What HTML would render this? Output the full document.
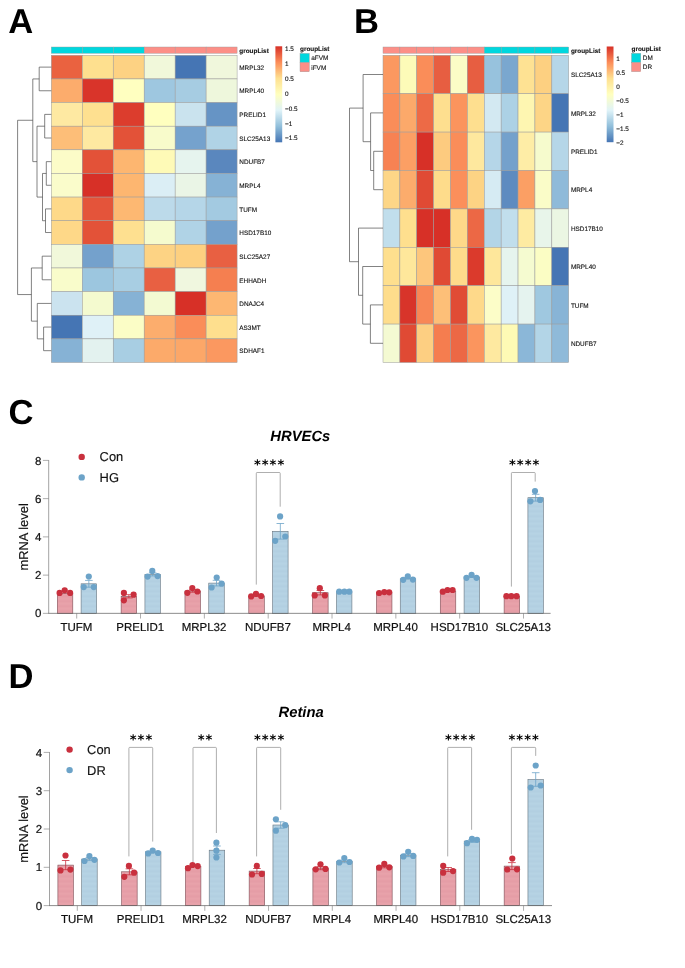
<!DOCTYPE html>
<html lang="en"><head><meta charset="utf-8"><title>Figure</title>
<style>
html,body{margin:0;padding:0;background:#fff;}
body{width:685px;height:968px;overflow:hidden;}
svg{display:block;font-family:"Liberation Sans", Arial, Helvetica, sans-serif;text-rendering:geometricPrecision;}
.pl{font-weight:bold;font-size:34.6px;fill:#000;}
.hl{font-size:6.4px;fill:#111;stroke:#111;stroke-width:0.12px;}
.hb{font-size:6.4px;font-weight:bold;fill:#111;stroke:#111;stroke-width:0.1px;}
.ax{font-size:11.5px;fill:#111;stroke:#111;stroke-width:0.2px;}
.yl{font-size:12.9px;fill:#111;stroke:#111;stroke-width:0.15px;}
.lg{font-size:12.9px;fill:#111;stroke:#111;stroke-width:0.15px;}
.tt{font-size:14.8px;font-weight:bold;font-style:italic;fill:#000;}
.st{font-family:"DejaVu Sans","Liberation Sans",sans-serif;font-size:13px;font-weight:bold;font-style:italic;fill:#000;letter-spacing:1.05px;}
</style></head><body>
<svg width="685" height="968" viewBox="0 0 685 968">
<defs>
<linearGradient id="cb" x1="0" y1="0" x2="0" y2="1">
<stop offset="0" stop-color="#D73027"/><stop offset="0.1667" stop-color="#FC8D59"/><stop offset="0.3333" stop-color="#FEE090"/><stop offset="0.5" stop-color="#FFFFBF"/><stop offset="0.6667" stop-color="#E0F3F8"/><stop offset="0.8333" stop-color="#91BFDB"/><stop offset="1" stop-color="#4575B4"/>
</linearGradient>
<pattern id="pr" width="1.25" height="1.25" patternUnits="userSpaceOnUse"><rect width="1.25" height="1.25" fill="#E8A3AB"/><rect width="1.25" height="0.4" fill="#E499A2"/></pattern>
<pattern id="pb" width="1.25" height="1.25" patternUnits="userSpaceOnUse"><rect width="1.25" height="1.25" fill="#B7D3E4"/><rect width="1.25" height="0.4" fill="#AECDE0"/></pattern>
</defs>
<rect width="685" height="968" fill="#fff"/>

<text class="pl" x="8.3" y="32.9">A</text>
<text class="pl" x="354.1" y="32.9">B</text>
<text class="pl" x="8.6" y="424.3">C</text>
<text class="pl" x="8.6" y="687.8">D</text>
<rect x="51.30" y="47.0" width="30.97" height="6.30" fill="#00D7DE" stroke="#9a9a9a" stroke-width="0.4"/>
<rect x="82.27" y="47.0" width="30.97" height="6.30" fill="#00D7DE" stroke="#9a9a9a" stroke-width="0.4"/>
<rect x="113.23" y="47.0" width="30.97" height="6.30" fill="#00D7DE" stroke="#9a9a9a" stroke-width="0.4"/>
<rect x="144.20" y="47.0" width="30.97" height="6.30" fill="#FC8F87" stroke="#9a9a9a" stroke-width="0.4"/>
<rect x="175.17" y="47.0" width="30.97" height="6.30" fill="#FC8F87" stroke="#9a9a9a" stroke-width="0.4"/>
<rect x="206.13" y="47.0" width="30.97" height="6.30" fill="#FC8F87" stroke="#9a9a9a" stroke-width="0.4"/>
<rect x="51.30" y="55.30" width="30.97" height="23.63" fill="#EA6240" stroke="#9a9a9a" stroke-width="0.5"/>
<rect x="82.27" y="55.30" width="30.97" height="23.63" fill="#FEE08F" stroke="#9a9a9a" stroke-width="0.5"/>
<rect x="113.23" y="55.30" width="30.97" height="23.63" fill="#FDD283" stroke="#9a9a9a" stroke-width="0.5"/>
<rect x="144.20" y="55.30" width="30.97" height="23.63" fill="#F1F8DA" stroke="#9a9a9a" stroke-width="0.5"/>
<rect x="175.17" y="55.30" width="30.97" height="23.63" fill="#4575B4" stroke="#9a9a9a" stroke-width="0.5"/>
<rect x="206.13" y="55.30" width="30.97" height="23.63" fill="#F0F7DC" stroke="#9a9a9a" stroke-width="0.5"/>
<rect x="51.30" y="78.93" width="30.97" height="23.63" fill="#FCAC6C" stroke="#9a9a9a" stroke-width="0.5"/>
<rect x="82.27" y="78.93" width="30.97" height="23.63" fill="#D9342A" stroke="#9a9a9a" stroke-width="0.5"/>
<rect x="113.23" y="78.93" width="30.97" height="23.63" fill="#FFFFC0" stroke="#9a9a9a" stroke-width="0.5"/>
<rect x="144.20" y="78.93" width="30.97" height="23.63" fill="#9EC7E0" stroke="#9a9a9a" stroke-width="0.5"/>
<rect x="175.17" y="78.93" width="30.97" height="23.63" fill="#A6CCE2" stroke="#9a9a9a" stroke-width="0.5"/>
<rect x="206.13" y="78.93" width="30.97" height="23.63" fill="#EEF7DC" stroke="#9a9a9a" stroke-width="0.5"/>
<rect x="51.30" y="102.56" width="30.97" height="23.63" fill="#FEE9A2" stroke="#9a9a9a" stroke-width="0.5"/>
<rect x="82.27" y="102.56" width="30.97" height="23.63" fill="#FEE090" stroke="#9a9a9a" stroke-width="0.5"/>
<rect x="113.23" y="102.56" width="30.97" height="23.63" fill="#DC3D2D" stroke="#9a9a9a" stroke-width="0.5"/>
<rect x="144.20" y="102.56" width="30.97" height="23.63" fill="#FFFFBF" stroke="#9a9a9a" stroke-width="0.5"/>
<rect x="175.17" y="102.56" width="30.97" height="23.63" fill="#CAE3EE" stroke="#9a9a9a" stroke-width="0.5"/>
<rect x="206.13" y="102.56" width="30.97" height="23.63" fill="#6694C5" stroke="#9a9a9a" stroke-width="0.5"/>
<rect x="51.30" y="126.19" width="30.97" height="23.63" fill="#FDBE78" stroke="#9a9a9a" stroke-width="0.5"/>
<rect x="82.27" y="126.19" width="30.97" height="23.63" fill="#FEE9A1" stroke="#9a9a9a" stroke-width="0.5"/>
<rect x="113.23" y="126.19" width="30.97" height="23.63" fill="#E35238" stroke="#9a9a9a" stroke-width="0.5"/>
<rect x="144.20" y="126.19" width="30.97" height="23.63" fill="#F8FBCB" stroke="#9a9a9a" stroke-width="0.5"/>
<rect x="175.17" y="126.19" width="30.97" height="23.63" fill="#75A2CD" stroke="#9a9a9a" stroke-width="0.5"/>
<rect x="206.13" y="126.19" width="30.97" height="23.63" fill="#B0D3E6" stroke="#9a9a9a" stroke-width="0.5"/>
<rect x="51.30" y="149.82" width="30.97" height="23.63" fill="#FCFCC8" stroke="#9a9a9a" stroke-width="0.5"/>
<rect x="82.27" y="149.82" width="30.97" height="23.63" fill="#E35238" stroke="#9a9a9a" stroke-width="0.5"/>
<rect x="113.23" y="149.82" width="30.97" height="23.63" fill="#FDB670" stroke="#9a9a9a" stroke-width="0.5"/>
<rect x="144.20" y="149.82" width="30.97" height="23.63" fill="#FEFAB7" stroke="#9a9a9a" stroke-width="0.5"/>
<rect x="175.17" y="149.82" width="30.97" height="23.63" fill="#E6F4EE" stroke="#9a9a9a" stroke-width="0.5"/>
<rect x="206.13" y="149.82" width="30.97" height="23.63" fill="#5A87BE" stroke="#9a9a9a" stroke-width="0.5"/>
<rect x="51.30" y="173.45" width="30.97" height="23.63" fill="#FAFCCB" stroke="#9a9a9a" stroke-width="0.5"/>
<rect x="82.27" y="173.45" width="30.97" height="23.63" fill="#D73027" stroke="#9a9a9a" stroke-width="0.5"/>
<rect x="113.23" y="173.45" width="30.97" height="23.63" fill="#FDB670" stroke="#9a9a9a" stroke-width="0.5"/>
<rect x="144.20" y="173.45" width="30.97" height="23.63" fill="#DBEEF5" stroke="#9a9a9a" stroke-width="0.5"/>
<rect x="175.17" y="173.45" width="30.97" height="23.63" fill="#EAF5E6" stroke="#9a9a9a" stroke-width="0.5"/>
<rect x="206.13" y="173.45" width="30.97" height="23.63" fill="#86B2D5" stroke="#9a9a9a" stroke-width="0.5"/>
<rect x="51.30" y="197.08" width="30.97" height="23.63" fill="#FED989" stroke="#9a9a9a" stroke-width="0.5"/>
<rect x="82.27" y="197.08" width="30.97" height="23.63" fill="#E4543A" stroke="#9a9a9a" stroke-width="0.5"/>
<rect x="113.23" y="197.08" width="30.97" height="23.63" fill="#FDB872" stroke="#9a9a9a" stroke-width="0.5"/>
<rect x="144.20" y="197.08" width="30.97" height="23.63" fill="#BCDAEA" stroke="#9a9a9a" stroke-width="0.5"/>
<rect x="175.17" y="197.08" width="30.97" height="23.63" fill="#B5D6E8" stroke="#9a9a9a" stroke-width="0.5"/>
<rect x="206.13" y="197.08" width="30.97" height="23.63" fill="#A3CAE1" stroke="#9a9a9a" stroke-width="0.5"/>
<rect x="51.30" y="220.72" width="30.97" height="23.63" fill="#FED888" stroke="#9a9a9a" stroke-width="0.5"/>
<rect x="82.27" y="220.72" width="30.97" height="23.63" fill="#E35238" stroke="#9a9a9a" stroke-width="0.5"/>
<rect x="113.23" y="220.72" width="30.97" height="23.63" fill="#FEE090" stroke="#9a9a9a" stroke-width="0.5"/>
<rect x="144.20" y="220.72" width="30.97" height="23.63" fill="#F5FBCE" stroke="#9a9a9a" stroke-width="0.5"/>
<rect x="175.17" y="220.72" width="30.97" height="23.63" fill="#B0D3E6" stroke="#9a9a9a" stroke-width="0.5"/>
<rect x="206.13" y="220.72" width="30.97" height="23.63" fill="#74A1CC" stroke="#9a9a9a" stroke-width="0.5"/>
<rect x="51.30" y="244.35" width="30.97" height="23.63" fill="#F1F8DA" stroke="#9a9a9a" stroke-width="0.5"/>
<rect x="82.27" y="244.35" width="30.97" height="23.63" fill="#74A1CC" stroke="#9a9a9a" stroke-width="0.5"/>
<rect x="113.23" y="244.35" width="30.97" height="23.63" fill="#AED2E5" stroke="#9a9a9a" stroke-width="0.5"/>
<rect x="144.20" y="244.35" width="30.97" height="23.63" fill="#FDD384" stroke="#9a9a9a" stroke-width="0.5"/>
<rect x="175.17" y="244.35" width="30.97" height="23.63" fill="#FDD080" stroke="#9a9a9a" stroke-width="0.5"/>
<rect x="206.13" y="244.35" width="30.97" height="23.63" fill="#E86042" stroke="#9a9a9a" stroke-width="0.5"/>
<rect x="51.30" y="267.98" width="30.97" height="23.63" fill="#F9FCCB" stroke="#9a9a9a" stroke-width="0.5"/>
<rect x="82.27" y="267.98" width="30.97" height="23.63" fill="#9CC6DF" stroke="#9a9a9a" stroke-width="0.5"/>
<rect x="113.23" y="267.98" width="30.97" height="23.63" fill="#A8CEE3" stroke="#9a9a9a" stroke-width="0.5"/>
<rect x="144.20" y="267.98" width="30.97" height="23.63" fill="#E86042" stroke="#9a9a9a" stroke-width="0.5"/>
<rect x="175.17" y="267.98" width="30.97" height="23.63" fill="#F0F7DF" stroke="#9a9a9a" stroke-width="0.5"/>
<rect x="206.13" y="267.98" width="30.97" height="23.63" fill="#F57F50" stroke="#9a9a9a" stroke-width="0.5"/>
<rect x="51.30" y="291.61" width="30.97" height="23.63" fill="#CBE3EF" stroke="#9a9a9a" stroke-width="0.5"/>
<rect x="82.27" y="291.61" width="30.97" height="23.63" fill="#F4FACF" stroke="#9a9a9a" stroke-width="0.5"/>
<rect x="113.23" y="291.61" width="30.97" height="23.63" fill="#86B2D5" stroke="#9a9a9a" stroke-width="0.5"/>
<rect x="144.20" y="291.61" width="30.97" height="23.63" fill="#F3FAD2" stroke="#9a9a9a" stroke-width="0.5"/>
<rect x="175.17" y="291.61" width="30.97" height="23.63" fill="#D73027" stroke="#9a9a9a" stroke-width="0.5"/>
<rect x="206.13" y="291.61" width="30.97" height="23.63" fill="#FDB772" stroke="#9a9a9a" stroke-width="0.5"/>
<rect x="51.30" y="315.24" width="30.97" height="23.63" fill="#4575B4" stroke="#9a9a9a" stroke-width="0.5"/>
<rect x="82.27" y="315.24" width="30.97" height="23.63" fill="#DFF1F7" stroke="#9a9a9a" stroke-width="0.5"/>
<rect x="113.23" y="315.24" width="30.97" height="23.63" fill="#FBFDC6" stroke="#9a9a9a" stroke-width="0.5"/>
<rect x="144.20" y="315.24" width="30.97" height="23.63" fill="#FCAD6D" stroke="#9a9a9a" stroke-width="0.5"/>
<rect x="175.17" y="315.24" width="30.97" height="23.63" fill="#FA8D59" stroke="#9a9a9a" stroke-width="0.5"/>
<rect x="206.13" y="315.24" width="30.97" height="23.63" fill="#FEDF8E" stroke="#9a9a9a" stroke-width="0.5"/>
<rect x="51.30" y="338.87" width="30.97" height="23.63" fill="#86B2D5" stroke="#9a9a9a" stroke-width="0.5"/>
<rect x="82.27" y="338.87" width="30.97" height="23.63" fill="#E3F2EF" stroke="#9a9a9a" stroke-width="0.5"/>
<rect x="113.23" y="338.87" width="30.97" height="23.63" fill="#A8CEE3" stroke="#9a9a9a" stroke-width="0.5"/>
<rect x="144.20" y="338.87" width="30.97" height="23.63" fill="#FCAA6A" stroke="#9a9a9a" stroke-width="0.5"/>
<rect x="175.17" y="338.87" width="30.97" height="23.63" fill="#FCA768" stroke="#9a9a9a" stroke-width="0.5"/>
<rect x="206.13" y="338.87" width="30.97" height="23.63" fill="#FB9860" stroke="#9a9a9a" stroke-width="0.5"/>
<text class="hb" x="239.3" y="52.5">groupList</text>
<text class="hl" x="239.3" y="69.8">MRPL32</text>
<text class="hl" x="239.3" y="93.4">MRPL40</text>
<text class="hl" x="239.3" y="117.1">PRELID1</text>
<text class="hl" x="239.3" y="140.7">SLC25A13</text>
<text class="hl" x="239.3" y="164.3">NDUFB7</text>
<text class="hl" x="239.3" y="188.0">MRPL4</text>
<text class="hl" x="239.3" y="211.6">TUFM</text>
<text class="hl" x="239.3" y="235.2">HSD17B10</text>
<text class="hl" x="239.3" y="258.9">SLC25A27</text>
<text class="hl" x="239.3" y="282.5">EHHADH</text>
<text class="hl" x="239.3" y="306.1">DNAJC4</text>
<text class="hl" x="239.3" y="329.8">AS3MT</text>
<text class="hl" x="239.3" y="353.4">SDHAF1</text>
<path d="M51.30 67.12H39.20V90.75H51.30M51.30 114.38H44.70V138.01H51.30M51.30 161.64H46.30V185.27H51.30M51.30 208.90H45.50V232.53H51.30M46.30 173.45H42.50V220.72H45.50M44.70 126.19H37.00V197.08H42.50M39.20 78.93H32.80V161.64H37.00M51.30 256.16H42.20V279.79H51.30M51.30 327.05H43.60V350.68H51.30M51.30 303.42H37.30V338.87H43.60M42.20 267.98H31.40V321.15H37.30M32.80 120.28H17.60V294.56H31.40" fill="none" stroke="#4d4d4d" stroke-width="0.7"/>
<rect x="275.4" y="46.3" width="6.8" height="96.00" fill="url(#cb)"/>
<text class="hl" x="285.0" y="51.3">1.5</text>
<text class="hl" x="285.0" y="66.1">1</text>
<text class="hl" x="285.0" y="81.0">0.5</text>
<text class="hl" x="285.0" y="95.8">0</text>
<text class="hl" x="285.0" y="110.6">−0.5</text>
<text class="hl" x="285.0" y="125.5">−1</text>
<text class="hl" x="285.0" y="140.3">−1.5</text>
<text class="hb" x="300.0" y="51.3">groupList</text>
<rect x="300.0" y="53.40" width="9.3" height="9.2" fill="#00D7DE" stroke="#9a9a9a" stroke-width="0.4"/>
<text class="hl" x="311.3" y="60.3">aFVM</text>
<rect x="300.0" y="62.60" width="9.3" height="9.2" fill="#FC8F87" stroke="#9a9a9a" stroke-width="0.4"/>
<text class="hl" x="311.3" y="69.5">iFVM</text>
<rect x="383.00" y="47.0" width="16.88" height="6.30" fill="#FC8F87" stroke="#9a9a9a" stroke-width="0.4"/>
<rect x="399.88" y="47.0" width="16.88" height="6.30" fill="#FC8F87" stroke="#9a9a9a" stroke-width="0.4"/>
<rect x="416.76" y="47.0" width="16.88" height="6.30" fill="#FC8F87" stroke="#9a9a9a" stroke-width="0.4"/>
<rect x="433.65" y="47.0" width="16.88" height="6.30" fill="#FC8F87" stroke="#9a9a9a" stroke-width="0.4"/>
<rect x="450.53" y="47.0" width="16.88" height="6.30" fill="#FC8F87" stroke="#9a9a9a" stroke-width="0.4"/>
<rect x="467.41" y="47.0" width="16.88" height="6.30" fill="#FC8F87" stroke="#9a9a9a" stroke-width="0.4"/>
<rect x="484.29" y="47.0" width="16.88" height="6.30" fill="#00D7DE" stroke="#9a9a9a" stroke-width="0.4"/>
<rect x="501.17" y="47.0" width="16.88" height="6.30" fill="#00D7DE" stroke="#9a9a9a" stroke-width="0.4"/>
<rect x="518.05" y="47.0" width="16.88" height="6.30" fill="#00D7DE" stroke="#9a9a9a" stroke-width="0.4"/>
<rect x="534.94" y="47.0" width="16.88" height="6.30" fill="#00D7DE" stroke="#9a9a9a" stroke-width="0.4"/>
<rect x="551.82" y="47.0" width="16.88" height="6.30" fill="#00D7DE" stroke="#9a9a9a" stroke-width="0.4"/>
<rect x="383.00" y="55.30" width="16.88" height="38.40" fill="#FB9860" stroke="#9a9a9a" stroke-width="0.5"/>
<rect x="399.88" y="55.30" width="16.88" height="38.40" fill="#FDFBB8" stroke="#9a9a9a" stroke-width="0.5"/>
<rect x="416.76" y="55.30" width="16.88" height="38.40" fill="#FA8D59" stroke="#9a9a9a" stroke-width="0.5"/>
<rect x="433.65" y="55.30" width="16.88" height="38.40" fill="#E75E41" stroke="#9a9a9a" stroke-width="0.5"/>
<rect x="450.53" y="55.30" width="16.88" height="38.40" fill="#FBFDC6" stroke="#9a9a9a" stroke-width="0.5"/>
<rect x="467.41" y="55.30" width="16.88" height="38.40" fill="#E75E41" stroke="#9a9a9a" stroke-width="0.5"/>
<rect x="484.29" y="55.30" width="16.88" height="38.40" fill="#97C2DD" stroke="#9a9a9a" stroke-width="0.5"/>
<rect x="501.17" y="55.30" width="16.88" height="38.40" fill="#7AA7CF" stroke="#9a9a9a" stroke-width="0.5"/>
<rect x="518.05" y="55.30" width="16.88" height="38.40" fill="#FEE293" stroke="#9a9a9a" stroke-width="0.5"/>
<rect x="534.94" y="55.30" width="16.88" height="38.40" fill="#FDD081" stroke="#9a9a9a" stroke-width="0.5"/>
<rect x="551.82" y="55.30" width="16.88" height="38.40" fill="#B5D6E8" stroke="#9a9a9a" stroke-width="0.5"/>
<rect x="383.00" y="93.70" width="16.88" height="38.40" fill="#FA8D59" stroke="#9a9a9a" stroke-width="0.5"/>
<rect x="399.88" y="93.70" width="16.88" height="38.40" fill="#FCA96A" stroke="#9a9a9a" stroke-width="0.5"/>
<rect x="416.76" y="93.70" width="16.88" height="38.40" fill="#ED6A46" stroke="#9a9a9a" stroke-width="0.5"/>
<rect x="433.65" y="93.70" width="16.88" height="38.40" fill="#FEDF8F" stroke="#9a9a9a" stroke-width="0.5"/>
<rect x="450.53" y="93.70" width="16.88" height="38.40" fill="#FB945D" stroke="#9a9a9a" stroke-width="0.5"/>
<rect x="467.41" y="93.70" width="16.88" height="38.40" fill="#FEDF8F" stroke="#9a9a9a" stroke-width="0.5"/>
<rect x="484.29" y="93.70" width="16.88" height="38.40" fill="#D3E9F2" stroke="#9a9a9a" stroke-width="0.5"/>
<rect x="501.17" y="93.70" width="16.88" height="38.40" fill="#ACD1E5" stroke="#9a9a9a" stroke-width="0.5"/>
<rect x="518.05" y="93.70" width="16.88" height="38.40" fill="#FEF6B1" stroke="#9a9a9a" stroke-width="0.5"/>
<rect x="534.94" y="93.70" width="16.88" height="38.40" fill="#FDD586" stroke="#9a9a9a" stroke-width="0.5"/>
<rect x="551.82" y="93.70" width="16.88" height="38.40" fill="#4575B4" stroke="#9a9a9a" stroke-width="0.5"/>
<rect x="383.00" y="132.10" width="16.88" height="38.40" fill="#F78253" stroke="#9a9a9a" stroke-width="0.5"/>
<rect x="399.88" y="132.10" width="16.88" height="38.40" fill="#FC9F64" stroke="#9a9a9a" stroke-width="0.5"/>
<rect x="416.76" y="132.10" width="16.88" height="38.40" fill="#D73027" stroke="#9a9a9a" stroke-width="0.5"/>
<rect x="433.65" y="132.10" width="16.88" height="38.40" fill="#FDCB7F" stroke="#9a9a9a" stroke-width="0.5"/>
<rect x="450.53" y="132.10" width="16.88" height="38.40" fill="#FA8D59" stroke="#9a9a9a" stroke-width="0.5"/>
<rect x="467.41" y="132.10" width="16.88" height="38.40" fill="#FEE89E" stroke="#9a9a9a" stroke-width="0.5"/>
<rect x="484.29" y="132.10" width="16.88" height="38.40" fill="#B5D6E8" stroke="#9a9a9a" stroke-width="0.5"/>
<rect x="501.17" y="132.10" width="16.88" height="38.40" fill="#74A1CC" stroke="#9a9a9a" stroke-width="0.5"/>
<rect x="518.05" y="132.10" width="16.88" height="38.40" fill="#FEEDA6" stroke="#9a9a9a" stroke-width="0.5"/>
<rect x="534.94" y="132.10" width="16.88" height="38.40" fill="#F6FBCD" stroke="#9a9a9a" stroke-width="0.5"/>
<rect x="551.82" y="132.10" width="16.88" height="38.40" fill="#B5D6E8" stroke="#9a9a9a" stroke-width="0.5"/>
<rect x="383.00" y="170.50" width="16.88" height="38.40" fill="#FDD687" stroke="#9a9a9a" stroke-width="0.5"/>
<rect x="399.88" y="170.50" width="16.88" height="38.40" fill="#FCAC6C" stroke="#9a9a9a" stroke-width="0.5"/>
<rect x="416.76" y="170.50" width="16.88" height="38.40" fill="#E04A34" stroke="#9a9a9a" stroke-width="0.5"/>
<rect x="433.65" y="170.50" width="16.88" height="38.40" fill="#FEDC8B" stroke="#9a9a9a" stroke-width="0.5"/>
<rect x="450.53" y="170.50" width="16.88" height="38.40" fill="#FB8F5B" stroke="#9a9a9a" stroke-width="0.5"/>
<rect x="467.41" y="170.50" width="16.88" height="38.40" fill="#FDD384" stroke="#9a9a9a" stroke-width="0.5"/>
<rect x="484.29" y="170.50" width="16.88" height="38.40" fill="#D6EBF3" stroke="#9a9a9a" stroke-width="0.5"/>
<rect x="501.17" y="170.50" width="16.88" height="38.40" fill="#5E8BC0" stroke="#9a9a9a" stroke-width="0.5"/>
<rect x="518.05" y="170.50" width="16.88" height="38.40" fill="#FB9F64" stroke="#9a9a9a" stroke-width="0.5"/>
<rect x="534.94" y="170.50" width="16.88" height="38.40" fill="#FAFCC8" stroke="#9a9a9a" stroke-width="0.5"/>
<rect x="551.82" y="170.50" width="16.88" height="38.40" fill="#8FBAD9" stroke="#9a9a9a" stroke-width="0.5"/>
<rect x="383.00" y="208.90" width="16.88" height="38.40" fill="#C1DEEC" stroke="#9a9a9a" stroke-width="0.5"/>
<rect x="399.88" y="208.90" width="16.88" height="38.40" fill="#FEDF8E" stroke="#9a9a9a" stroke-width="0.5"/>
<rect x="416.76" y="208.90" width="16.88" height="38.40" fill="#D73027" stroke="#9a9a9a" stroke-width="0.5"/>
<rect x="433.65" y="208.90" width="16.88" height="38.40" fill="#D73027" stroke="#9a9a9a" stroke-width="0.5"/>
<rect x="450.53" y="208.90" width="16.88" height="38.40" fill="#FED889" stroke="#9a9a9a" stroke-width="0.5"/>
<rect x="467.41" y="208.90" width="16.88" height="38.40" fill="#EC6845" stroke="#9a9a9a" stroke-width="0.5"/>
<rect x="484.29" y="208.90" width="16.88" height="38.40" fill="#B3D5E7" stroke="#9a9a9a" stroke-width="0.5"/>
<rect x="501.17" y="208.90" width="16.88" height="38.40" fill="#C1DEEC" stroke="#9a9a9a" stroke-width="0.5"/>
<rect x="518.05" y="208.90" width="16.88" height="38.40" fill="#FEEBA2" stroke="#9a9a9a" stroke-width="0.5"/>
<rect x="534.94" y="208.90" width="16.88" height="38.40" fill="#E8F5EA" stroke="#9a9a9a" stroke-width="0.5"/>
<rect x="551.82" y="208.90" width="16.88" height="38.40" fill="#EBF6E3" stroke="#9a9a9a" stroke-width="0.5"/>
<rect x="383.00" y="247.30" width="16.88" height="38.40" fill="#FEDF8E" stroke="#9a9a9a" stroke-width="0.5"/>
<rect x="399.88" y="247.30" width="16.88" height="38.40" fill="#FEE79B" stroke="#9a9a9a" stroke-width="0.5"/>
<rect x="416.76" y="247.30" width="16.88" height="38.40" fill="#FDC67C" stroke="#9a9a9a" stroke-width="0.5"/>
<rect x="433.65" y="247.30" width="16.88" height="38.40" fill="#E04A34" stroke="#9a9a9a" stroke-width="0.5"/>
<rect x="450.53" y="247.30" width="16.88" height="38.40" fill="#FEDC8B" stroke="#9a9a9a" stroke-width="0.5"/>
<rect x="467.41" y="247.30" width="16.88" height="38.40" fill="#DB3A2C" stroke="#9a9a9a" stroke-width="0.5"/>
<rect x="484.29" y="247.30" width="16.88" height="38.40" fill="#FEE79B" stroke="#9a9a9a" stroke-width="0.5"/>
<rect x="501.17" y="247.30" width="16.88" height="38.40" fill="#E6F4EE" stroke="#9a9a9a" stroke-width="0.5"/>
<rect x="518.05" y="247.30" width="16.88" height="38.40" fill="#F5FBD0" stroke="#9a9a9a" stroke-width="0.5"/>
<rect x="534.94" y="247.30" width="16.88" height="38.40" fill="#FBFDC4" stroke="#9a9a9a" stroke-width="0.5"/>
<rect x="551.82" y="247.30" width="16.88" height="38.40" fill="#4575B4" stroke="#9a9a9a" stroke-width="0.5"/>
<rect x="383.00" y="285.70" width="16.88" height="38.40" fill="#FEDD8C" stroke="#9a9a9a" stroke-width="0.5"/>
<rect x="399.88" y="285.70" width="16.88" height="38.40" fill="#D8342A" stroke="#9a9a9a" stroke-width="0.5"/>
<rect x="416.76" y="285.70" width="16.88" height="38.40" fill="#F88756" stroke="#9a9a9a" stroke-width="0.5"/>
<rect x="433.65" y="285.70" width="16.88" height="38.40" fill="#FDBF78" stroke="#9a9a9a" stroke-width="0.5"/>
<rect x="450.53" y="285.70" width="16.88" height="38.40" fill="#E04C35" stroke="#9a9a9a" stroke-width="0.5"/>
<rect x="467.41" y="285.70" width="16.88" height="38.40" fill="#FED98A" stroke="#9a9a9a" stroke-width="0.5"/>
<rect x="484.29" y="285.70" width="16.88" height="38.40" fill="#FCFDC8" stroke="#9a9a9a" stroke-width="0.5"/>
<rect x="501.17" y="285.70" width="16.88" height="38.40" fill="#DFF1F7" stroke="#9a9a9a" stroke-width="0.5"/>
<rect x="518.05" y="285.70" width="16.88" height="38.40" fill="#E5F3EF" stroke="#9a9a9a" stroke-width="0.5"/>
<rect x="534.94" y="285.70" width="16.88" height="38.40" fill="#9FC8E0" stroke="#9a9a9a" stroke-width="0.5"/>
<rect x="551.82" y="285.70" width="16.88" height="38.40" fill="#88B4D6" stroke="#9a9a9a" stroke-width="0.5"/>
<rect x="383.00" y="324.10" width="16.88" height="38.40" fill="#F4FAD2" stroke="#9a9a9a" stroke-width="0.5"/>
<rect x="399.88" y="324.10" width="16.88" height="38.40" fill="#E04A34" stroke="#9a9a9a" stroke-width="0.5"/>
<rect x="416.76" y="324.10" width="16.88" height="38.40" fill="#FDCF82" stroke="#9a9a9a" stroke-width="0.5"/>
<rect x="433.65" y="324.10" width="16.88" height="38.40" fill="#F57D4F" stroke="#9a9a9a" stroke-width="0.5"/>
<rect x="450.53" y="324.10" width="16.88" height="38.40" fill="#EC6845" stroke="#9a9a9a" stroke-width="0.5"/>
<rect x="467.41" y="324.10" width="16.88" height="38.40" fill="#FB955E" stroke="#9a9a9a" stroke-width="0.5"/>
<rect x="484.29" y="324.10" width="16.88" height="38.40" fill="#FEE9A0" stroke="#9a9a9a" stroke-width="0.5"/>
<rect x="501.17" y="324.10" width="16.88" height="38.40" fill="#FEFAB5" stroke="#9a9a9a" stroke-width="0.5"/>
<rect x="518.05" y="324.10" width="16.88" height="38.40" fill="#8BB7D8" stroke="#9a9a9a" stroke-width="0.5"/>
<rect x="534.94" y="324.10" width="16.88" height="38.40" fill="#B3D5E7" stroke="#9a9a9a" stroke-width="0.5"/>
<rect x="551.82" y="324.10" width="16.88" height="38.40" fill="#8FBAD9" stroke="#9a9a9a" stroke-width="0.5"/>
<text class="hb" x="570.9" y="52.5">groupList</text>
<text class="hl" x="570.9" y="77.2">SLC25A13</text>
<text class="hl" x="570.9" y="115.6">MRPL32</text>
<text class="hl" x="570.9" y="154.0">PRELID1</text>
<text class="hl" x="570.9" y="192.4">MRPL4</text>
<text class="hl" x="570.9" y="230.8">HSD17B10</text>
<text class="hl" x="570.9" y="269.2">MRPL40</text>
<text class="hl" x="570.9" y="307.6">TUFM</text>
<text class="hl" x="570.9" y="346.0">NDUFB7</text>
<path d="M383.00 151.30H373.70V189.70H383.00M383.00 112.90H370.60V170.50H373.70M383.00 74.50H363.10V141.70H370.60M383.00 304.90H370.40V343.30H383.00M383.00 266.50H362.70V324.10H370.40M383.00 228.10H358.50V295.30H362.70M363.10 108.10H349.50V261.70H358.50" fill="none" stroke="#4d4d4d" stroke-width="0.7"/>
<rect x="606.7" y="46.5" width="6.8" height="95.70" fill="url(#cb)"/>
<text class="hl" x="616.2" y="61.1">1</text>
<text class="hl" x="616.2" y="75.0">0.5</text>
<text class="hl" x="616.2" y="88.9">0</text>
<text class="hl" x="616.2" y="102.9">−0.5</text>
<text class="hl" x="616.2" y="116.8">−1</text>
<text class="hl" x="616.2" y="130.7">−1.5</text>
<text class="hl" x="616.2" y="144.6">−2</text>
<text class="hb" x="631.5" y="51.2">groupList</text>
<rect x="631.5" y="53.30" width="9.3" height="9.2" fill="#00D7DE" stroke="#9a9a9a" stroke-width="0.4"/>
<text class="hl" x="642.8" y="60.2">DM</text>
<rect x="631.5" y="62.50" width="9.3" height="9.2" fill="#FC8F87" stroke="#9a9a9a" stroke-width="0.4"/>
<text class="hl" x="642.8" y="69.4">DR</text>
<rect x="57.30" y="593.30" width="15.5" height="20.05" fill="url(#pr)" stroke="#7d4d55" stroke-width="0.6"/>
<circle cx="59.60" cy="592.90" r="3.1" fill="#C9303E"/>
<circle cx="64.70" cy="590.30" r="3.1" fill="#C9303E"/>
<circle cx="70.10" cy="592.90" r="3.1" fill="#C9303E"/>
<rect x="81.10" y="583.80" width="15.5" height="29.55" fill="url(#pb)" stroke="#66747f" stroke-width="0.6"/>
<path d="M88.85 580.40V587.20M85.05 580.40h7.6M85.05 587.20h7.6" stroke="#6CA3C8" stroke-width="0.8" fill="none"/>
<circle cx="83.70" cy="587.10" r="3.1" fill="#6CA3C8"/>
<circle cx="88.80" cy="576.60" r="3.1" fill="#6CA3C8"/>
<circle cx="93.80" cy="587.10" r="3.1" fill="#6CA3C8"/>
<rect x="121.13" y="596.30" width="15.5" height="17.05" fill="url(#pr)" stroke="#7d4d55" stroke-width="0.6"/>
<path d="M128.88 594.70V597.90M125.08 594.70h7.6M125.08 597.90h7.6" stroke="#C9303E" stroke-width="0.8" fill="none"/>
<circle cx="123.90" cy="592.90" r="3.1" fill="#C9303E"/>
<circle cx="123.90" cy="600.30" r="3.1" fill="#C9303E"/>
<circle cx="133.60" cy="594.70" r="3.1" fill="#C9303E"/>
<rect x="144.93" y="574.40" width="15.5" height="38.95" fill="url(#pb)" stroke="#66747f" stroke-width="0.6"/>
<path d="M152.68 572.90V575.90M148.88 572.90h7.6M148.88 575.90h7.6" stroke="#6CA3C8" stroke-width="0.8" fill="none"/>
<circle cx="147.60" cy="576.60" r="3.1" fill="#6CA3C8"/>
<circle cx="152.30" cy="570.90" r="3.1" fill="#6CA3C8"/>
<circle cx="157.60" cy="576.10" r="3.1" fill="#6CA3C8"/>
<rect x="184.96" y="591.00" width="15.5" height="22.35" fill="url(#pr)" stroke="#7d4d55" stroke-width="0.6"/>
<path d="M192.71 589.80V592.20M188.91 589.80h7.6M188.91 592.20h7.6" stroke="#C9303E" stroke-width="0.8" fill="none"/>
<circle cx="187.40" cy="592.80" r="3.1" fill="#C9303E"/>
<circle cx="192.30" cy="588.00" r="3.1" fill="#C9303E"/>
<circle cx="197.40" cy="591.50" r="3.1" fill="#C9303E"/>
<rect x="208.76" y="583.10" width="15.5" height="30.25" fill="url(#pb)" stroke="#66747f" stroke-width="0.6"/>
<path d="M216.51 580.30V585.90M212.71 580.30h7.6M212.71 585.90h7.6" stroke="#6CA3C8" stroke-width="0.8" fill="none"/>
<circle cx="211.60" cy="587.50" r="3.1" fill="#6CA3C8"/>
<circle cx="216.70" cy="577.50" r="3.1" fill="#6CA3C8"/>
<circle cx="221.60" cy="583.70" r="3.1" fill="#6CA3C8"/>
<rect x="248.79" y="595.90" width="15.5" height="17.45" fill="url(#pr)" stroke="#7d4d55" stroke-width="0.6"/>
<circle cx="251.20" cy="596.40" r="3.1" fill="#C9303E"/>
<circle cx="256.00" cy="593.90" r="3.1" fill="#C9303E"/>
<circle cx="261.10" cy="596.00" r="3.1" fill="#C9303E"/>
<rect x="272.59" y="531.30" width="15.5" height="82.05" fill="url(#pb)" stroke="#66747f" stroke-width="0.6"/>
<path d="M280.34 523.50V539.10M276.54 523.50h7.6M276.54 539.10h7.6" stroke="#6CA3C8" stroke-width="0.8" fill="none"/>
<circle cx="275.20" cy="540.80" r="3.1" fill="#6CA3C8"/>
<circle cx="280.10" cy="516.40" r="3.1" fill="#6CA3C8"/>
<circle cx="285.30" cy="536.50" r="3.1" fill="#6CA3C8"/>
<rect x="312.62" y="592.70" width="15.5" height="20.65" fill="url(#pr)" stroke="#7d4d55" stroke-width="0.6"/>
<path d="M320.37 590.50V594.90M316.57 590.50h7.6M316.57 594.90h7.6" stroke="#C9303E" stroke-width="0.8" fill="none"/>
<circle cx="314.70" cy="595.40" r="3.1" fill="#C9303E"/>
<circle cx="319.80" cy="588.20" r="3.1" fill="#C9303E"/>
<circle cx="324.90" cy="595.40" r="3.1" fill="#C9303E"/>
<rect x="336.42" y="591.70" width="15.5" height="21.65" fill="url(#pb)" stroke="#66747f" stroke-width="0.6"/>
<circle cx="339.20" cy="591.70" r="3.1" fill="#6CA3C8"/>
<circle cx="344.40" cy="591.70" r="3.1" fill="#6CA3C8"/>
<circle cx="349.30" cy="591.70" r="3.1" fill="#6CA3C8"/>
<rect x="376.45" y="592.70" width="15.5" height="20.65" fill="url(#pr)" stroke="#7d4d55" stroke-width="0.6"/>
<circle cx="379.10" cy="593.00" r="3.1" fill="#C9303E"/>
<circle cx="384.30" cy="592.10" r="3.1" fill="#C9303E"/>
<circle cx="389.20" cy="592.30" r="3.1" fill="#C9303E"/>
<rect x="400.25" y="578.80" width="15.5" height="34.55" fill="url(#pb)" stroke="#66747f" stroke-width="0.6"/>
<circle cx="403.20" cy="579.80" r="3.1" fill="#6CA3C8"/>
<circle cx="407.80" cy="576.40" r="3.1" fill="#6CA3C8"/>
<circle cx="412.90" cy="579.60" r="3.1" fill="#6CA3C8"/>
<rect x="440.28" y="591.10" width="15.5" height="22.25" fill="url(#pr)" stroke="#7d4d55" stroke-width="0.6"/>
<circle cx="442.80" cy="591.70" r="3.1" fill="#C9303E"/>
<circle cx="447.50" cy="590.00" r="3.1" fill="#C9303E"/>
<circle cx="452.60" cy="590.00" r="3.1" fill="#C9303E"/>
<rect x="464.08" y="577.00" width="15.5" height="36.35" fill="url(#pb)" stroke="#66747f" stroke-width="0.6"/>
<circle cx="466.50" cy="577.80" r="3.1" fill="#6CA3C8"/>
<circle cx="471.60" cy="574.90" r="3.1" fill="#6CA3C8"/>
<circle cx="476.50" cy="577.80" r="3.1" fill="#6CA3C8"/>
<rect x="504.11" y="596.40" width="15.5" height="16.95" fill="url(#pr)" stroke="#7d4d55" stroke-width="0.6"/>
<circle cx="506.40" cy="596.20" r="3.1" fill="#C9303E"/>
<circle cx="511.30" cy="596.20" r="3.1" fill="#C9303E"/>
<circle cx="516.60" cy="596.20" r="3.1" fill="#C9303E"/>
<rect x="527.91" y="497.70" width="15.5" height="115.65" fill="url(#pb)" stroke="#66747f" stroke-width="0.6"/>
<path d="M535.66 494.30V501.10M531.86 494.30h7.6M531.86 501.10h7.6" stroke="#6CA3C8" stroke-width="0.8" fill="none"/>
<circle cx="530.40" cy="501.30" r="3.1" fill="#6CA3C8"/>
<circle cx="535.00" cy="491.10" r="3.1" fill="#6CA3C8"/>
<circle cx="540.10" cy="499.90" r="3.1" fill="#6CA3C8"/>
<path d="M48.7 460.10V613.35" fill="none" stroke="#8a8a8a" stroke-width="0.8"/>
<path d="M48.300000000000004 613.35H550.6" fill="none" stroke="#5a5a5a" stroke-width="0.7"/>
<path d="M42.90 613.35H48.7" stroke="#777" stroke-width="0.6"/>
<text class="ax" text-anchor="end" x="41.30" y="617.45">0</text>
<path d="M42.90 575.11H48.7" stroke="#777" stroke-width="0.6"/>
<text class="ax" text-anchor="end" x="41.30" y="579.21">2</text>
<path d="M42.90 536.88H48.7" stroke="#777" stroke-width="0.6"/>
<text class="ax" text-anchor="end" x="41.30" y="540.98">4</text>
<path d="M42.90 498.64H48.7" stroke="#777" stroke-width="0.6"/>
<text class="ax" text-anchor="end" x="41.30" y="502.74">6</text>
<path d="M42.90 460.40H48.7" stroke="#777" stroke-width="0.6"/>
<text class="ax" text-anchor="end" x="41.30" y="464.50">8</text>
<path d="M76.70 613.35v5.2" stroke="#777" stroke-width="0.6"/>
<text class="ax" text-anchor="middle" x="76.40" y="630.5">TUFM</text>
<path d="M140.53 613.35v5.2" stroke="#777" stroke-width="0.6"/>
<text class="ax" text-anchor="middle" x="140.23" y="630.5">PRELID1</text>
<path d="M204.36 613.35v5.2" stroke="#777" stroke-width="0.6"/>
<text class="ax" text-anchor="middle" x="204.06" y="630.5">MRPL32</text>
<path d="M268.19 613.35v5.2" stroke="#777" stroke-width="0.6"/>
<text class="ax" text-anchor="middle" x="267.89" y="630.5">NDUFB7</text>
<path d="M332.02 613.35v5.2" stroke="#777" stroke-width="0.6"/>
<text class="ax" text-anchor="middle" x="331.72" y="630.5">MRPL4</text>
<path d="M395.85 613.35v5.2" stroke="#777" stroke-width="0.6"/>
<text class="ax" text-anchor="middle" x="395.55" y="630.5">MRPL40</text>
<path d="M459.68 613.35v5.2" stroke="#777" stroke-width="0.6"/>
<text class="ax" text-anchor="middle" x="459.38" y="630.5">HSD17B10</text>
<path d="M523.51 613.35v5.2" stroke="#777" stroke-width="0.6"/>
<text class="ax" text-anchor="middle" x="523.21" y="630.5">SLC25A13</text>
<text class="yl" text-anchor="middle" transform="translate(28.3 536.9) rotate(-90)">mRNA level</text>
<text class="tt" text-anchor="middle" x="300.3" y="440.8">HRVECs</text>
<circle cx="81.7" cy="456.9" r="3.2" fill="#C9303E"/><text class="lg" x="99.6" y="461.3">Con</text>
<circle cx="81.7" cy="477.4" r="3.2" fill="#6CA3C8"/><text class="lg" x="99.6" y="481.8">HG</text>
<path d="M256.3 584.6V473.3q0 -0.8 0.8 -0.8H279.4q0.8 0 0.8 0.8V506.7" fill="none" stroke="#8c8c8c" stroke-width="0.7"/>
<text class="st" text-anchor="middle" x="269.6" y="469.0">****</text>
<path d="M511.4 586.6V473.3q0 -0.8 0.8 -0.8H534.4000000000001q0.8 0 0.8 0.8V481.6" fill="none" stroke="#8c8c8c" stroke-width="0.7"/>
<text class="st" text-anchor="middle" x="524.7" y="469.0">****</text>
<rect x="57.90" y="865.10" width="15.5" height="40.50" fill="url(#pr)" stroke="#7d4d55" stroke-width="0.6"/>
<path d="M65.65 860.50V869.70M61.85 860.50h7.6M61.85 869.70h7.6" stroke="#C9303E" stroke-width="0.8" fill="none"/>
<circle cx="60.50" cy="870.40" r="3.1" fill="#C9303E"/>
<circle cx="65.50" cy="855.50" r="3.1" fill="#C9303E"/>
<circle cx="70.40" cy="869.60" r="3.1" fill="#C9303E"/>
<rect x="81.70" y="859.00" width="15.5" height="46.60" fill="url(#pb)" stroke="#66747f" stroke-width="0.6"/>
<path d="M89.45 857.60V860.40M85.65 857.60h7.6M85.65 860.40h7.6" stroke="#6CA3C8" stroke-width="0.8" fill="none"/>
<circle cx="84.50" cy="861.00" r="3.1" fill="#6CA3C8"/>
<circle cx="89.40" cy="856.00" r="3.1" fill="#6CA3C8"/>
<circle cx="94.40" cy="859.80" r="3.1" fill="#6CA3C8"/>
<rect x="121.65" y="871.80" width="15.5" height="33.80" fill="url(#pr)" stroke="#7d4d55" stroke-width="0.6"/>
<path d="M129.40 868.80V874.80M125.60 868.80h7.6M125.60 874.80h7.6" stroke="#C9303E" stroke-width="0.8" fill="none"/>
<circle cx="124.30" cy="876.80" r="3.1" fill="#C9303E"/>
<circle cx="128.90" cy="865.90" r="3.1" fill="#C9303E"/>
<circle cx="134.10" cy="872.70" r="3.1" fill="#C9303E"/>
<rect x="145.45" y="851.80" width="15.5" height="53.80" fill="url(#pb)" stroke="#66747f" stroke-width="0.6"/>
<circle cx="148.20" cy="853.40" r="3.1" fill="#6CA3C8"/>
<circle cx="152.70" cy="850.70" r="3.1" fill="#6CA3C8"/>
<circle cx="158.00" cy="853.00" r="3.1" fill="#6CA3C8"/>
<rect x="185.40" y="866.60" width="15.5" height="39.00" fill="url(#pr)" stroke="#7d4d55" stroke-width="0.6"/>
<circle cx="188.00" cy="868.20" r="3.1" fill="#C9303E"/>
<circle cx="192.50" cy="865.00" r="3.1" fill="#C9303E"/>
<circle cx="197.70" cy="866.10" r="3.1" fill="#C9303E"/>
<rect x="209.20" y="850.20" width="15.5" height="55.40" fill="url(#pb)" stroke="#66747f" stroke-width="0.6"/>
<path d="M216.95 846.00V854.40M213.15 846.00h7.6M213.15 854.40h7.6" stroke="#6CA3C8" stroke-width="0.8" fill="none"/>
<circle cx="216.40" cy="842.70" r="3.1" fill="#6CA3C8"/>
<circle cx="216.40" cy="850.70" r="3.1" fill="#6CA3C8"/>
<circle cx="216.40" cy="857.50" r="3.1" fill="#6CA3C8"/>
<rect x="249.15" y="871.10" width="15.5" height="34.50" fill="url(#pr)" stroke="#7d4d55" stroke-width="0.6"/>
<path d="M256.90 868.50V873.70M253.10 868.50h7.6M253.10 873.70h7.6" stroke="#C9303E" stroke-width="0.8" fill="none"/>
<circle cx="252.00" cy="874.50" r="3.1" fill="#C9303E"/>
<circle cx="256.80" cy="865.90" r="3.1" fill="#C9303E"/>
<circle cx="261.80" cy="873.90" r="3.1" fill="#C9303E"/>
<rect x="272.95" y="825.00" width="15.5" height="80.60" fill="url(#pb)" stroke="#66747f" stroke-width="0.6"/>
<path d="M280.70 821.80V828.20M276.90 821.80h7.6M276.90 828.20h7.6" stroke="#6CA3C8" stroke-width="0.8" fill="none"/>
<circle cx="275.90" cy="819.30" r="3.1" fill="#6CA3C8"/>
<circle cx="275.90" cy="830.70" r="3.1" fill="#6CA3C8"/>
<circle cx="285.20" cy="825.20" r="3.1" fill="#6CA3C8"/>
<rect x="312.90" y="868.20" width="15.5" height="37.40" fill="url(#pr)" stroke="#7d4d55" stroke-width="0.6"/>
<path d="M320.65 866.70V869.70M316.85 866.70h7.6M316.85 869.70h7.6" stroke="#C9303E" stroke-width="0.8" fill="none"/>
<circle cx="315.70" cy="869.30" r="3.1" fill="#C9303E"/>
<circle cx="320.50" cy="864.30" r="3.1" fill="#C9303E"/>
<circle cx="325.50" cy="868.90" r="3.1" fill="#C9303E"/>
<rect x="336.70" y="861.40" width="15.5" height="44.20" fill="url(#pb)" stroke="#66747f" stroke-width="0.6"/>
<path d="M344.45 860.10V862.70M340.65 860.10h7.6M340.65 862.70h7.6" stroke="#6CA3C8" stroke-width="0.8" fill="none"/>
<circle cx="339.30" cy="862.50" r="3.1" fill="#6CA3C8"/>
<circle cx="344.30" cy="858.00" r="3.1" fill="#6CA3C8"/>
<circle cx="349.50" cy="862.00" r="3.1" fill="#6CA3C8"/>
<rect x="376.65" y="866.60" width="15.5" height="39.00" fill="url(#pr)" stroke="#7d4d55" stroke-width="0.6"/>
<path d="M384.40 865.40V867.80M380.60 865.40h7.6M380.60 867.80h7.6" stroke="#C9303E" stroke-width="0.8" fill="none"/>
<circle cx="379.10" cy="867.70" r="3.1" fill="#C9303E"/>
<circle cx="384.30" cy="863.90" r="3.1" fill="#C9303E"/>
<circle cx="389.30" cy="867.30" r="3.1" fill="#C9303E"/>
<rect x="400.45" y="855.20" width="15.5" height="50.40" fill="url(#pb)" stroke="#66747f" stroke-width="0.6"/>
<path d="M408.20 853.80V856.60M404.40 853.80h7.6M404.40 856.60h7.6" stroke="#6CA3C8" stroke-width="0.8" fill="none"/>
<circle cx="403.40" cy="856.40" r="3.1" fill="#6CA3C8"/>
<circle cx="408.20" cy="851.80" r="3.1" fill="#6CA3C8"/>
<circle cx="413.20" cy="855.90" r="3.1" fill="#6CA3C8"/>
<rect x="440.40" y="869.50" width="15.5" height="36.10" fill="url(#pr)" stroke="#7d4d55" stroke-width="0.6"/>
<path d="M448.15 867.50V871.50M444.35 867.50h7.6M444.35 871.50h7.6" stroke="#C9303E" stroke-width="0.8" fill="none"/>
<circle cx="443.20" cy="865.90" r="3.1" fill="#C9303E"/>
<circle cx="443.20" cy="872.70" r="3.1" fill="#C9303E"/>
<circle cx="453.00" cy="871.10" r="3.1" fill="#C9303E"/>
<rect x="464.20" y="841.10" width="15.5" height="64.50" fill="url(#pb)" stroke="#66747f" stroke-width="0.6"/>
<path d="M471.95 839.80V842.40M468.15 839.80h7.6M468.15 842.40h7.6" stroke="#6CA3C8" stroke-width="0.8" fill="none"/>
<circle cx="467.00" cy="843.20" r="3.1" fill="#6CA3C8"/>
<circle cx="472.00" cy="838.90" r="3.1" fill="#6CA3C8"/>
<circle cx="477.00" cy="839.80" r="3.1" fill="#6CA3C8"/>
<rect x="504.15" y="866.10" width="15.5" height="39.50" fill="url(#pr)" stroke="#7d4d55" stroke-width="0.6"/>
<path d="M511.90 862.60V869.60M508.10 862.60h7.6M508.10 869.60h7.6" stroke="#C9303E" stroke-width="0.8" fill="none"/>
<circle cx="507.30" cy="869.50" r="3.1" fill="#C9303E"/>
<circle cx="512.30" cy="858.60" r="3.1" fill="#C9303E"/>
<circle cx="517.00" cy="869.30" r="3.1" fill="#C9303E"/>
<rect x="527.95" y="779.50" width="15.5" height="126.10" fill="url(#pb)" stroke="#66747f" stroke-width="0.6"/>
<path d="M535.70 772.70V786.30M531.90 772.70h7.6M531.90 786.30h7.6" stroke="#6CA3C8" stroke-width="0.8" fill="none"/>
<circle cx="530.70" cy="787.50" r="3.1" fill="#6CA3C8"/>
<circle cx="535.70" cy="765.50" r="3.1" fill="#6CA3C8"/>
<circle cx="540.70" cy="785.50" r="3.1" fill="#6CA3C8"/>
<path d="M49.5 752.10V905.60" fill="none" stroke="#8a8a8a" stroke-width="0.8"/>
<path d="M49.1 905.60H552.0" fill="none" stroke="#5a5a5a" stroke-width="0.7"/>
<path d="M43.70 905.60H49.5" stroke="#777" stroke-width="0.6"/>
<text class="ax" text-anchor="end" x="42.10" y="909.70">0</text>
<path d="M43.70 867.30H49.5" stroke="#777" stroke-width="0.6"/>
<text class="ax" text-anchor="end" x="42.10" y="871.40">1</text>
<path d="M43.70 829.00H49.5" stroke="#777" stroke-width="0.6"/>
<text class="ax" text-anchor="end" x="42.10" y="833.10">2</text>
<path d="M43.70 790.70H49.5" stroke="#777" stroke-width="0.6"/>
<text class="ax" text-anchor="end" x="42.10" y="794.80">3</text>
<path d="M43.70 752.40H49.5" stroke="#777" stroke-width="0.6"/>
<text class="ax" text-anchor="end" x="42.10" y="756.50">4</text>
<path d="M77.30 905.60v5.2" stroke="#777" stroke-width="0.6"/>
<text class="ax" text-anchor="middle" x="77.00" y="922.6">TUFM</text>
<path d="M141.05 905.60v5.2" stroke="#777" stroke-width="0.6"/>
<text class="ax" text-anchor="middle" x="140.75" y="922.6">PRELID1</text>
<path d="M204.80 905.60v5.2" stroke="#777" stroke-width="0.6"/>
<text class="ax" text-anchor="middle" x="204.50" y="922.6">MRPL32</text>
<path d="M268.55 905.60v5.2" stroke="#777" stroke-width="0.6"/>
<text class="ax" text-anchor="middle" x="268.25" y="922.6">NDUFB7</text>
<path d="M332.30 905.60v5.2" stroke="#777" stroke-width="0.6"/>
<text class="ax" text-anchor="middle" x="332.00" y="922.6">MRPL4</text>
<path d="M396.05 905.60v5.2" stroke="#777" stroke-width="0.6"/>
<text class="ax" text-anchor="middle" x="395.75" y="922.6">MRPL40</text>
<path d="M459.80 905.60v5.2" stroke="#777" stroke-width="0.6"/>
<text class="ax" text-anchor="middle" x="459.50" y="922.6">HSD17B10</text>
<path d="M523.55 905.60v5.2" stroke="#777" stroke-width="0.6"/>
<text class="ax" text-anchor="middle" x="523.25" y="922.6">SLC25A13</text>
<text class="yl" text-anchor="middle" transform="translate(28.1 829.0) rotate(-90)">mRNA level</text>
<text class="tt" text-anchor="middle" x="301.1" y="717.2">Retina</text>
<circle cx="69.6" cy="749.6" r="3.2" fill="#C9303E"/><text class="lg" x="87.1" y="754.0">Con</text>
<circle cx="69.6" cy="770.1" r="3.2" fill="#6CA3C8"/><text class="lg" x="87.1" y="774.5">DR</text>
<path d="M128.9 856.4V748.1999999999999q0 -0.8 0.8 -0.8H151.89999999999998q0.8 0 0.8 0.8V841.6" fill="none" stroke="#8c8c8c" stroke-width="0.7"/>
<text class="st" text-anchor="middle" x="141.5" y="744.2">***</text>
<path d="M193.0 862.0V748.1999999999999q0 -0.8 0.8 -0.8H215.6q0.8 0 0.8 0.8V833.0" fill="none" stroke="#8c8c8c" stroke-width="0.7"/>
<text class="st" text-anchor="middle" x="205.5" y="744.2">**</text>
<path d="M256.6 856.4V748.1999999999999q0 -0.8 0.8 -0.8H279.9q0.8 0 0.8 0.8V809.8" fill="none" stroke="#8c8c8c" stroke-width="0.7"/>
<text class="st" text-anchor="middle" x="269.6" y="744.2">****</text>
<path d="M447.7 856.4V748.1999999999999q0 -0.8 0.8 -0.8H470.8q0.8 0 0.8 0.8V829.8" fill="none" stroke="#8c8c8c" stroke-width="0.7"/>
<text class="st" text-anchor="middle" x="460.6" y="744.2">****</text>
<path d="M511.4 854.1V748.1999999999999q0 -0.8 0.8 -0.8H534.9000000000001q0.8 0 0.8 0.8V755.9" fill="none" stroke="#8c8c8c" stroke-width="0.7"/>
<text class="st" text-anchor="middle" x="524.2" y="744.2">****</text>
</svg></body></html>
